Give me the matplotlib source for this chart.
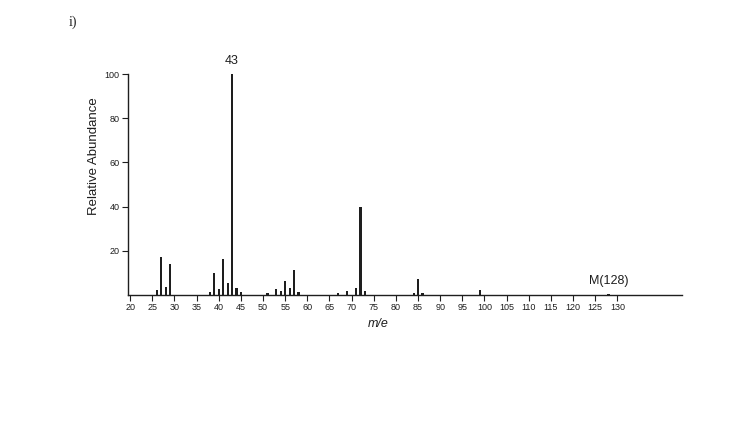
import matplotlib
matplotlib.use("Agg")
import matplotlib.pyplot as plt

mz = [26, 27, 28, 29, 38, 39, 40, 41, 42, 43, 44, 45, 51, 53, 54, 55, 56, 57, 58,
      67, 69, 71, 72, 73, 84, 85, 86, 99, 128]
abundance = [2.3, 17.3, 3.8, 14.0, 1.2, 9.8, 2.6, 16.3, 5.3, 100, 3.3, 1.5, 1.0, 2.6, 1.7, 6.3, 3.2, 11.4, 1.5,
             1.0, 1.6, 3.3, 40.0, 1.8, 0.9, 7.4, 0.9, 2.4, 0.6]
xticks = list(range(20, 131, 5))
yticks = [20, 40, 60, 80, 100]

ink = "#1e1e1e"
plt.rcParams['font.family'] = ['Liberation Sans', 'DejaVu Sans']

W, H = 754, 440
fig = plt.figure(figsize=(W/100, H/100), dpi=100)
ax = fig.add_axes([128/W, (H-295)/H, 554/W, 221/H])

ax.bar(mz, abundance, width=0.5, color=ink, linewidth=0)
ax.set_xlim(19.5, 144.6)
ax.set_ylim(0, 100)

for s in ["top", "right"]:
    ax.spines[s].set_visible(False)
for s in ["left", "bottom"]:
    ax.spines[s].set_color(ink)
    ax.spines[s].set_linewidth(1.0)

ax.set_xticks(xticks)
ax.set_xticklabels([str(t) for t in xticks])
ax.set_yticks(yticks)
ax.set_yticklabels([str(t) for t in yticks])
ax.tick_params(axis="both", colors=ink, labelsize=6.5, length=4, width=0.8, direction="out", pad=2)

fig.text(94/W, 1 - 156/H, "Relative Abundance", rotation=90, fontsize=9.5, color=ink,
         ha="center", va="center")
fig.text(378/W, 1 - 324/H, "m/e", fontsize=9, color=ink, style="italic", ha="center", va="center")

ax.text(43, 103, "43", ha="center", va="bottom", fontsize=9, color=ink, clip_on=False)
ax.text(128, 3.5, "M(128)", ha="center", va="bottom", fontsize=9, color=ink)

fig.text(73/W, 1 - 22/H, "i)", fontsize=10, family="Liberation Serif", ha="center", va="center", color=ink)

fig.savefig("out.png", dpi=100, facecolor="white")
